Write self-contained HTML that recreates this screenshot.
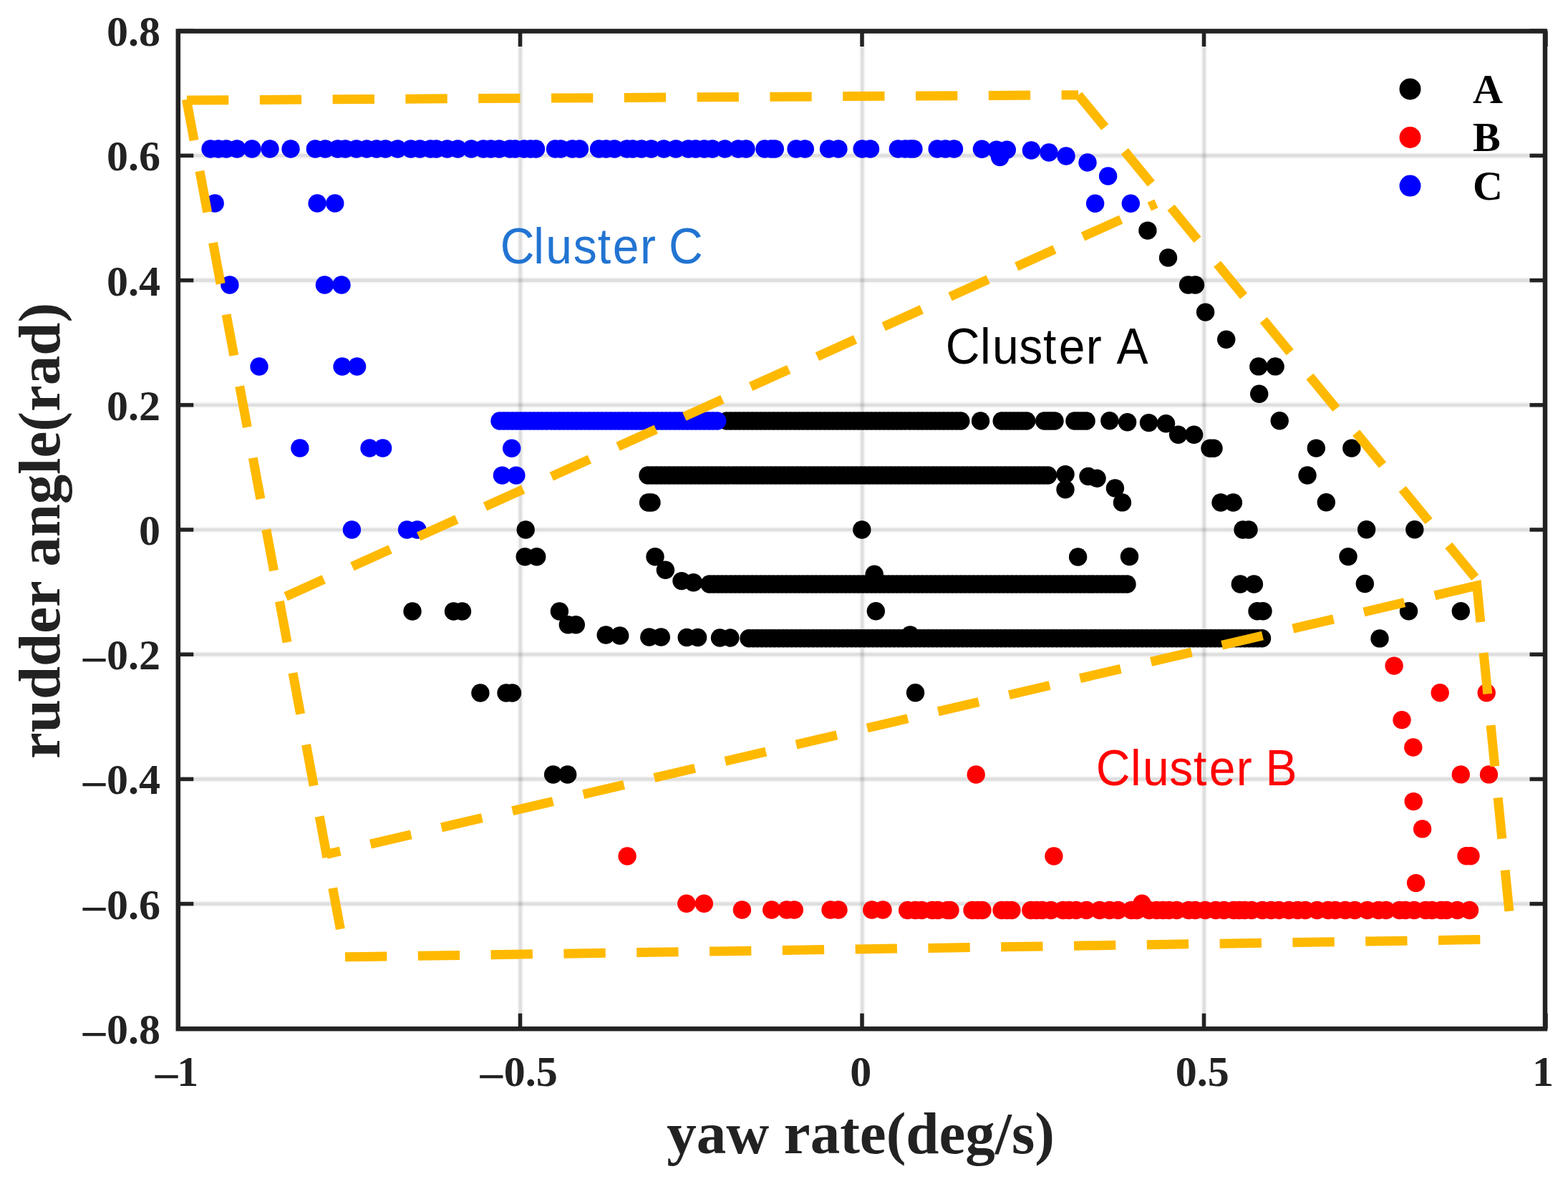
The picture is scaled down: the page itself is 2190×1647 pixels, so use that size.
<!DOCTYPE html>
<html><head><meta charset="utf-8"><title>rudder angle vs yaw rate</title>
<style>
html,body{margin:0;padding:0;background:#fff;}
svg{display:block;}
</style></head>
<body>
<svg width="2190" height="1647" viewBox="0 0 2190 1647">
<rect x="0" y="0" width="2190" height="1647" fill="#ffffff"/>
<g id="grid">
<line x1="726.8" y1="43.5" x2="726.8" y2="1437.2" stroke="#000" stroke-opacity="0.03" stroke-width="9.0"/>
<line x1="726.8" y1="43.5" x2="726.8" y2="1437.2" stroke="#000" stroke-opacity="0.094" stroke-width="4.6"/>
<line x1="1204.3" y1="43.5" x2="1204.3" y2="1437.2" stroke="#000" stroke-opacity="0.03" stroke-width="9.0"/>
<line x1="1204.3" y1="43.5" x2="1204.3" y2="1437.2" stroke="#000" stroke-opacity="0.094" stroke-width="4.6"/>
<line x1="1681.8" y1="43.5" x2="1681.8" y2="1437.2" stroke="#000" stroke-opacity="0.03" stroke-width="9.0"/>
<line x1="1681.8" y1="43.5" x2="1681.8" y2="1437.2" stroke="#000" stroke-opacity="0.094" stroke-width="4.6"/>
<line x1="248.8" y1="217.4" x2="2158.0" y2="217.4" stroke="#000" stroke-opacity="0.03" stroke-width="9.0"/>
<line x1="248.8" y1="217.4" x2="2158.0" y2="217.4" stroke="#000" stroke-opacity="0.094" stroke-width="4.6"/>
<line x1="248.8" y1="391.6" x2="2158.0" y2="391.6" stroke="#000" stroke-opacity="0.03" stroke-width="9.0"/>
<line x1="248.8" y1="391.6" x2="2158.0" y2="391.6" stroke="#000" stroke-opacity="0.094" stroke-width="4.6"/>
<line x1="248.8" y1="565.8" x2="2158.0" y2="565.8" stroke="#000" stroke-opacity="0.03" stroke-width="9.0"/>
<line x1="248.8" y1="565.8" x2="2158.0" y2="565.8" stroke="#000" stroke-opacity="0.094" stroke-width="4.6"/>
<line x1="248.8" y1="740.0" x2="2158.0" y2="740.0" stroke="#000" stroke-opacity="0.03" stroke-width="9.0"/>
<line x1="248.8" y1="740.0" x2="2158.0" y2="740.0" stroke="#000" stroke-opacity="0.094" stroke-width="4.6"/>
<line x1="248.8" y1="914.2" x2="2158.0" y2="914.2" stroke="#000" stroke-opacity="0.03" stroke-width="9.0"/>
<line x1="248.8" y1="914.2" x2="2158.0" y2="914.2" stroke="#000" stroke-opacity="0.094" stroke-width="4.6"/>
<line x1="248.8" y1="1088.4" x2="2158.0" y2="1088.4" stroke="#000" stroke-opacity="0.03" stroke-width="9.0"/>
<line x1="248.8" y1="1088.4" x2="2158.0" y2="1088.4" stroke="#000" stroke-opacity="0.094" stroke-width="4.6"/>
<line x1="248.8" y1="1262.6" x2="2158.0" y2="1262.6" stroke="#000" stroke-opacity="0.03" stroke-width="9.0"/>
<line x1="248.8" y1="1262.6" x2="2158.0" y2="1262.6" stroke="#000" stroke-opacity="0.094" stroke-width="4.6"/>
</g>
<g id="points">
<circle cx="1602.9" cy="322.1" r="12.7" fill="#000000"/>
<circle cx="1631.5" cy="360.0" r="12.7" fill="#000000"/>
<circle cx="1659.5" cy="398.0" r="12.7" fill="#000000"/>
<circle cx="1669.5" cy="398.0" r="12.7" fill="#000000"/>
<circle cx="1683.6" cy="436.1" r="12.7" fill="#000000"/>
<circle cx="1712.7" cy="474.2" r="12.7" fill="#000000"/>
<circle cx="1757.8" cy="511.9" r="12.7" fill="#000000"/>
<circle cx="1781.1" cy="511.9" r="12.7" fill="#000000"/>
<circle cx="1758.7" cy="550.3" r="12.7" fill="#000000"/>
<circle cx="1787.2" cy="587.8" r="12.7" fill="#000000"/>
<circle cx="1838.3" cy="626.1" r="12.7" fill="#000000"/>
<circle cx="1887.8" cy="626.1" r="12.7" fill="#000000"/>
<circle cx="1826.0" cy="664.0" r="12.7" fill="#000000"/>
<circle cx="1852.3" cy="701.8" r="12.7" fill="#000000"/>
<circle cx="1908.6" cy="739.7" r="12.7" fill="#000000"/>
<circle cx="1975.8" cy="739.7" r="12.7" fill="#000000"/>
<circle cx="1883.0" cy="777.6" r="12.7" fill="#000000"/>
<circle cx="1906.3" cy="815.5" r="12.7" fill="#000000"/>
<circle cx="1967.5" cy="853.8" r="12.7" fill="#000000"/>
<circle cx="2040.3" cy="853.8" r="12.7" fill="#000000"/>
<circle cx="1927.0" cy="891.9" r="12.7" fill="#000000"/>
<circle cx="1369.5" cy="588.0" r="12.7" fill="#000000"/>
<circle cx="1549.8" cy="587.8" r="12.7" fill="#000000"/>
<circle cx="1574.6" cy="589.7" r="12.7" fill="#000000"/>
<circle cx="1604.5" cy="590.6" r="12.7" fill="#000000"/>
<circle cx="1628.5" cy="591.8" r="12.7" fill="#000000"/>
<circle cx="1645.6" cy="607.3" r="12.7" fill="#000000"/>
<circle cx="1667.6" cy="607.3" r="12.7" fill="#000000"/>
<circle cx="1690.0" cy="626.2" r="12.7" fill="#000000"/>
<circle cx="1695.0" cy="626.2" r="12.7" fill="#000000"/>
<circle cx="1488.0" cy="662.6" r="12.7" fill="#000000"/>
<circle cx="1488.0" cy="683.7" r="12.7" fill="#000000"/>
<circle cx="1520.0" cy="665.5" r="12.7" fill="#000000"/>
<circle cx="1532.0" cy="668.2" r="12.7" fill="#000000"/>
<circle cx="1557.4" cy="681.9" r="12.7" fill="#000000"/>
<circle cx="1567.4" cy="701.9" r="12.7" fill="#000000"/>
<circle cx="905.5" cy="702.0" r="12.7" fill="#000000"/>
<circle cx="910.0" cy="702.0" r="12.7" fill="#000000"/>
<circle cx="1705.0" cy="702.0" r="12.7" fill="#000000"/>
<circle cx="1722.4" cy="702.0" r="12.7" fill="#000000"/>
<circle cx="734.2" cy="740.0" r="12.7" fill="#000000"/>
<circle cx="1203.8" cy="740.0" r="12.7" fill="#000000"/>
<circle cx="1736.0" cy="740.0" r="12.7" fill="#000000"/>
<circle cx="1744.0" cy="740.0" r="12.7" fill="#000000"/>
<circle cx="733.2" cy="777.7" r="12.7" fill="#000000"/>
<circle cx="749.7" cy="777.7" r="12.7" fill="#000000"/>
<circle cx="915.0" cy="777.7" r="12.7" fill="#000000"/>
<circle cx="1505.6" cy="778.0" r="12.7" fill="#000000"/>
<circle cx="1577.5" cy="777.5" r="12.7" fill="#000000"/>
<circle cx="929.4" cy="796.2" r="12.7" fill="#000000"/>
<circle cx="1221.2" cy="802.3" r="12.7" fill="#000000"/>
<circle cx="952.0" cy="811.6" r="12.7" fill="#000000"/>
<circle cx="968.5" cy="813.7" r="12.7" fill="#000000"/>
<circle cx="1732.3" cy="816.0" r="12.7" fill="#000000"/>
<circle cx="1751.4" cy="816.0" r="12.7" fill="#000000"/>
<circle cx="576.0" cy="854.0" r="12.7" fill="#000000"/>
<circle cx="633.5" cy="854.0" r="12.7" fill="#000000"/>
<circle cx="645.5" cy="854.0" r="12.7" fill="#000000"/>
<circle cx="781.4" cy="854.0" r="12.7" fill="#000000"/>
<circle cx="1223.3" cy="853.7" r="12.7" fill="#000000"/>
<circle cx="1756.0" cy="853.7" r="12.7" fill="#000000"/>
<circle cx="1764.0" cy="853.7" r="12.7" fill="#000000"/>
<circle cx="793.3" cy="872.7" r="12.7" fill="#000000"/>
<circle cx="804.3" cy="872.7" r="12.7" fill="#000000"/>
<circle cx="846.2" cy="887.0" r="12.7" fill="#000000"/>
<circle cx="865.7" cy="888.0" r="12.7" fill="#000000"/>
<circle cx="906.8" cy="890.0" r="12.7" fill="#000000"/>
<circle cx="923.3" cy="890.0" r="12.7" fill="#000000"/>
<circle cx="959.2" cy="890.5" r="12.7" fill="#000000"/>
<circle cx="974.6" cy="890.5" r="12.7" fill="#000000"/>
<circle cx="1005.5" cy="891.0" r="12.7" fill="#000000"/>
<circle cx="1019.8" cy="891.0" r="12.7" fill="#000000"/>
<circle cx="1271.2" cy="887.0" r="12.7" fill="#000000"/>
<circle cx="670.9" cy="968.0" r="12.7" fill="#000000"/>
<circle cx="707.0" cy="968.0" r="12.7" fill="#000000"/>
<circle cx="715.5" cy="968.0" r="12.7" fill="#000000"/>
<circle cx="1278.5" cy="967.8" r="12.7" fill="#000000"/>
<circle cx="772.6" cy="1082.0" r="12.7" fill="#000000"/>
<circle cx="792.7" cy="1082.0" r="12.7" fill="#000000"/>
<circle cx="1015.0" cy="588.0" r="12.7" fill="#000000"/>
<circle cx="1020.9" cy="588.0" r="12.7" fill="#000000"/>
<circle cx="1026.9" cy="588.0" r="12.7" fill="#000000"/>
<circle cx="1032.8" cy="588.0" r="12.7" fill="#000000"/>
<circle cx="1038.8" cy="588.0" r="12.7" fill="#000000"/>
<circle cx="1044.7" cy="588.0" r="12.7" fill="#000000"/>
<circle cx="1050.7" cy="588.0" r="12.7" fill="#000000"/>
<circle cx="1056.6" cy="588.0" r="12.7" fill="#000000"/>
<circle cx="1062.5" cy="588.0" r="12.7" fill="#000000"/>
<circle cx="1068.5" cy="588.0" r="12.7" fill="#000000"/>
<circle cx="1074.4" cy="588.0" r="12.7" fill="#000000"/>
<circle cx="1080.4" cy="588.0" r="12.7" fill="#000000"/>
<circle cx="1086.3" cy="588.0" r="12.7" fill="#000000"/>
<circle cx="1092.2" cy="588.0" r="12.7" fill="#000000"/>
<circle cx="1098.2" cy="588.0" r="12.7" fill="#000000"/>
<circle cx="1104.1" cy="588.0" r="12.7" fill="#000000"/>
<circle cx="1110.1" cy="588.0" r="12.7" fill="#000000"/>
<circle cx="1116.0" cy="588.0" r="12.7" fill="#000000"/>
<circle cx="1122.0" cy="588.0" r="12.7" fill="#000000"/>
<circle cx="1127.9" cy="588.0" r="12.7" fill="#000000"/>
<circle cx="1133.8" cy="588.0" r="12.7" fill="#000000"/>
<circle cx="1139.8" cy="588.0" r="12.7" fill="#000000"/>
<circle cx="1145.7" cy="588.0" r="12.7" fill="#000000"/>
<circle cx="1151.7" cy="588.0" r="12.7" fill="#000000"/>
<circle cx="1157.6" cy="588.0" r="12.7" fill="#000000"/>
<circle cx="1163.5" cy="588.0" r="12.7" fill="#000000"/>
<circle cx="1169.5" cy="588.0" r="12.7" fill="#000000"/>
<circle cx="1175.4" cy="588.0" r="12.7" fill="#000000"/>
<circle cx="1181.4" cy="588.0" r="12.7" fill="#000000"/>
<circle cx="1187.3" cy="588.0" r="12.7" fill="#000000"/>
<circle cx="1193.3" cy="588.0" r="12.7" fill="#000000"/>
<circle cx="1199.2" cy="588.0" r="12.7" fill="#000000"/>
<circle cx="1205.1" cy="588.0" r="12.7" fill="#000000"/>
<circle cx="1211.1" cy="588.0" r="12.7" fill="#000000"/>
<circle cx="1217.0" cy="588.0" r="12.7" fill="#000000"/>
<circle cx="1223.0" cy="588.0" r="12.7" fill="#000000"/>
<circle cx="1228.9" cy="588.0" r="12.7" fill="#000000"/>
<circle cx="1234.8" cy="588.0" r="12.7" fill="#000000"/>
<circle cx="1240.8" cy="588.0" r="12.7" fill="#000000"/>
<circle cx="1246.7" cy="588.0" r="12.7" fill="#000000"/>
<circle cx="1252.7" cy="588.0" r="12.7" fill="#000000"/>
<circle cx="1258.6" cy="588.0" r="12.7" fill="#000000"/>
<circle cx="1264.6" cy="588.0" r="12.7" fill="#000000"/>
<circle cx="1270.5" cy="588.0" r="12.7" fill="#000000"/>
<circle cx="1276.4" cy="588.0" r="12.7" fill="#000000"/>
<circle cx="1282.4" cy="588.0" r="12.7" fill="#000000"/>
<circle cx="1288.3" cy="588.0" r="12.7" fill="#000000"/>
<circle cx="1294.3" cy="588.0" r="12.7" fill="#000000"/>
<circle cx="1300.2" cy="588.0" r="12.7" fill="#000000"/>
<circle cx="1306.1" cy="588.0" r="12.7" fill="#000000"/>
<circle cx="1312.1" cy="588.0" r="12.7" fill="#000000"/>
<circle cx="1318.0" cy="588.0" r="12.7" fill="#000000"/>
<circle cx="1324.0" cy="588.0" r="12.7" fill="#000000"/>
<circle cx="1329.9" cy="588.0" r="12.7" fill="#000000"/>
<circle cx="1335.9" cy="588.0" r="12.7" fill="#000000"/>
<circle cx="1341.8" cy="588.0" r="12.7" fill="#000000"/>
<circle cx="1399.2" cy="588.0" r="12.7" fill="#000000"/>
<circle cx="1405.0" cy="588.0" r="12.7" fill="#000000"/>
<circle cx="1410.7" cy="588.0" r="12.7" fill="#000000"/>
<circle cx="1416.5" cy="588.0" r="12.7" fill="#000000"/>
<circle cx="1422.2" cy="588.0" r="12.7" fill="#000000"/>
<circle cx="1428.0" cy="588.0" r="12.7" fill="#000000"/>
<circle cx="1433.7" cy="588.0" r="12.7" fill="#000000"/>
<circle cx="1458.7" cy="588.0" r="12.7" fill="#000000"/>
<circle cx="1463.5" cy="588.0" r="12.7" fill="#000000"/>
<circle cx="1468.2" cy="588.0" r="12.7" fill="#000000"/>
<circle cx="1473.0" cy="588.0" r="12.7" fill="#000000"/>
<circle cx="1500.9" cy="588.0" r="12.7" fill="#000000"/>
<circle cx="1506.3" cy="588.0" r="12.7" fill="#000000"/>
<circle cx="1511.7" cy="588.0" r="12.7" fill="#000000"/>
<circle cx="1517.1" cy="588.0" r="12.7" fill="#000000"/>
<circle cx="905.0" cy="664.0" r="12.7" fill="#000000"/>
<circle cx="910.9" cy="664.0" r="12.7" fill="#000000"/>
<circle cx="916.9" cy="664.0" r="12.7" fill="#000000"/>
<circle cx="922.8" cy="664.0" r="12.7" fill="#000000"/>
<circle cx="928.8" cy="664.0" r="12.7" fill="#000000"/>
<circle cx="934.7" cy="664.0" r="12.7" fill="#000000"/>
<circle cx="940.6" cy="664.0" r="12.7" fill="#000000"/>
<circle cx="946.6" cy="664.0" r="12.7" fill="#000000"/>
<circle cx="952.5" cy="664.0" r="12.7" fill="#000000"/>
<circle cx="958.5" cy="664.0" r="12.7" fill="#000000"/>
<circle cx="964.4" cy="664.0" r="12.7" fill="#000000"/>
<circle cx="970.4" cy="664.0" r="12.7" fill="#000000"/>
<circle cx="976.3" cy="664.0" r="12.7" fill="#000000"/>
<circle cx="982.2" cy="664.0" r="12.7" fill="#000000"/>
<circle cx="988.2" cy="664.0" r="12.7" fill="#000000"/>
<circle cx="994.1" cy="664.0" r="12.7" fill="#000000"/>
<circle cx="1000.1" cy="664.0" r="12.7" fill="#000000"/>
<circle cx="1006.0" cy="664.0" r="12.7" fill="#000000"/>
<circle cx="1011.9" cy="664.0" r="12.7" fill="#000000"/>
<circle cx="1017.9" cy="664.0" r="12.7" fill="#000000"/>
<circle cx="1023.8" cy="664.0" r="12.7" fill="#000000"/>
<circle cx="1029.8" cy="664.0" r="12.7" fill="#000000"/>
<circle cx="1035.7" cy="664.0" r="12.7" fill="#000000"/>
<circle cx="1041.7" cy="664.0" r="12.7" fill="#000000"/>
<circle cx="1047.6" cy="664.0" r="12.7" fill="#000000"/>
<circle cx="1053.5" cy="664.0" r="12.7" fill="#000000"/>
<circle cx="1059.5" cy="664.0" r="12.7" fill="#000000"/>
<circle cx="1065.4" cy="664.0" r="12.7" fill="#000000"/>
<circle cx="1071.4" cy="664.0" r="12.7" fill="#000000"/>
<circle cx="1077.3" cy="664.0" r="12.7" fill="#000000"/>
<circle cx="1083.2" cy="664.0" r="12.7" fill="#000000"/>
<circle cx="1089.2" cy="664.0" r="12.7" fill="#000000"/>
<circle cx="1095.1" cy="664.0" r="12.7" fill="#000000"/>
<circle cx="1101.1" cy="664.0" r="12.7" fill="#000000"/>
<circle cx="1107.0" cy="664.0" r="12.7" fill="#000000"/>
<circle cx="1113.0" cy="664.0" r="12.7" fill="#000000"/>
<circle cx="1118.9" cy="664.0" r="12.7" fill="#000000"/>
<circle cx="1124.8" cy="664.0" r="12.7" fill="#000000"/>
<circle cx="1130.8" cy="664.0" r="12.7" fill="#000000"/>
<circle cx="1136.7" cy="664.0" r="12.7" fill="#000000"/>
<circle cx="1142.7" cy="664.0" r="12.7" fill="#000000"/>
<circle cx="1148.6" cy="664.0" r="12.7" fill="#000000"/>
<circle cx="1154.5" cy="664.0" r="12.7" fill="#000000"/>
<circle cx="1160.5" cy="664.0" r="12.7" fill="#000000"/>
<circle cx="1166.4" cy="664.0" r="12.7" fill="#000000"/>
<circle cx="1172.4" cy="664.0" r="12.7" fill="#000000"/>
<circle cx="1178.3" cy="664.0" r="12.7" fill="#000000"/>
<circle cx="1184.2" cy="664.0" r="12.7" fill="#000000"/>
<circle cx="1190.2" cy="664.0" r="12.7" fill="#000000"/>
<circle cx="1196.1" cy="664.0" r="12.7" fill="#000000"/>
<circle cx="1202.1" cy="664.0" r="12.7" fill="#000000"/>
<circle cx="1208.0" cy="664.0" r="12.7" fill="#000000"/>
<circle cx="1214.0" cy="664.0" r="12.7" fill="#000000"/>
<circle cx="1219.9" cy="664.0" r="12.7" fill="#000000"/>
<circle cx="1225.8" cy="664.0" r="12.7" fill="#000000"/>
<circle cx="1231.8" cy="664.0" r="12.7" fill="#000000"/>
<circle cx="1237.7" cy="664.0" r="12.7" fill="#000000"/>
<circle cx="1243.7" cy="664.0" r="12.7" fill="#000000"/>
<circle cx="1249.6" cy="664.0" r="12.7" fill="#000000"/>
<circle cx="1255.5" cy="664.0" r="12.7" fill="#000000"/>
<circle cx="1261.5" cy="664.0" r="12.7" fill="#000000"/>
<circle cx="1267.4" cy="664.0" r="12.7" fill="#000000"/>
<circle cx="1273.4" cy="664.0" r="12.7" fill="#000000"/>
<circle cx="1279.3" cy="664.0" r="12.7" fill="#000000"/>
<circle cx="1285.3" cy="664.0" r="12.7" fill="#000000"/>
<circle cx="1291.2" cy="664.0" r="12.7" fill="#000000"/>
<circle cx="1297.1" cy="664.0" r="12.7" fill="#000000"/>
<circle cx="1303.1" cy="664.0" r="12.7" fill="#000000"/>
<circle cx="1309.0" cy="664.0" r="12.7" fill="#000000"/>
<circle cx="1315.0" cy="664.0" r="12.7" fill="#000000"/>
<circle cx="1320.9" cy="664.0" r="12.7" fill="#000000"/>
<circle cx="1326.8" cy="664.0" r="12.7" fill="#000000"/>
<circle cx="1332.8" cy="664.0" r="12.7" fill="#000000"/>
<circle cx="1338.7" cy="664.0" r="12.7" fill="#000000"/>
<circle cx="1344.7" cy="664.0" r="12.7" fill="#000000"/>
<circle cx="1350.6" cy="664.0" r="12.7" fill="#000000"/>
<circle cx="1356.6" cy="664.0" r="12.7" fill="#000000"/>
<circle cx="1362.5" cy="664.0" r="12.7" fill="#000000"/>
<circle cx="1368.4" cy="664.0" r="12.7" fill="#000000"/>
<circle cx="1374.4" cy="664.0" r="12.7" fill="#000000"/>
<circle cx="1380.3" cy="664.0" r="12.7" fill="#000000"/>
<circle cx="1386.3" cy="664.0" r="12.7" fill="#000000"/>
<circle cx="1392.2" cy="664.0" r="12.7" fill="#000000"/>
<circle cx="1398.1" cy="664.0" r="12.7" fill="#000000"/>
<circle cx="1404.1" cy="664.0" r="12.7" fill="#000000"/>
<circle cx="1410.0" cy="664.0" r="12.7" fill="#000000"/>
<circle cx="1416.0" cy="664.0" r="12.7" fill="#000000"/>
<circle cx="1421.9" cy="664.0" r="12.7" fill="#000000"/>
<circle cx="1427.9" cy="664.0" r="12.7" fill="#000000"/>
<circle cx="1433.8" cy="664.0" r="12.7" fill="#000000"/>
<circle cx="1439.7" cy="664.0" r="12.7" fill="#000000"/>
<circle cx="1445.7" cy="664.0" r="12.7" fill="#000000"/>
<circle cx="1451.6" cy="664.0" r="12.7" fill="#000000"/>
<circle cx="1457.6" cy="664.0" r="12.7" fill="#000000"/>
<circle cx="1463.5" cy="664.0" r="12.7" fill="#000000"/>
<circle cx="991.0" cy="816.0" r="12.7" fill="#000000"/>
<circle cx="996.9" cy="816.0" r="12.7" fill="#000000"/>
<circle cx="1002.9" cy="816.0" r="12.7" fill="#000000"/>
<circle cx="1008.8" cy="816.0" r="12.7" fill="#000000"/>
<circle cx="1014.8" cy="816.0" r="12.7" fill="#000000"/>
<circle cx="1020.7" cy="816.0" r="12.7" fill="#000000"/>
<circle cx="1026.7" cy="816.0" r="12.7" fill="#000000"/>
<circle cx="1032.6" cy="816.0" r="12.7" fill="#000000"/>
<circle cx="1038.6" cy="816.0" r="12.7" fill="#000000"/>
<circle cx="1044.5" cy="816.0" r="12.7" fill="#000000"/>
<circle cx="1050.5" cy="816.0" r="12.7" fill="#000000"/>
<circle cx="1056.4" cy="816.0" r="12.7" fill="#000000"/>
<circle cx="1062.4" cy="816.0" r="12.7" fill="#000000"/>
<circle cx="1068.3" cy="816.0" r="12.7" fill="#000000"/>
<circle cx="1074.3" cy="816.0" r="12.7" fill="#000000"/>
<circle cx="1080.2" cy="816.0" r="12.7" fill="#000000"/>
<circle cx="1086.2" cy="816.0" r="12.7" fill="#000000"/>
<circle cx="1092.1" cy="816.0" r="12.7" fill="#000000"/>
<circle cx="1098.1" cy="816.0" r="12.7" fill="#000000"/>
<circle cx="1104.0" cy="816.0" r="12.7" fill="#000000"/>
<circle cx="1110.0" cy="816.0" r="12.7" fill="#000000"/>
<circle cx="1115.9" cy="816.0" r="12.7" fill="#000000"/>
<circle cx="1121.9" cy="816.0" r="12.7" fill="#000000"/>
<circle cx="1127.8" cy="816.0" r="12.7" fill="#000000"/>
<circle cx="1133.8" cy="816.0" r="12.7" fill="#000000"/>
<circle cx="1139.7" cy="816.0" r="12.7" fill="#000000"/>
<circle cx="1145.7" cy="816.0" r="12.7" fill="#000000"/>
<circle cx="1151.6" cy="816.0" r="12.7" fill="#000000"/>
<circle cx="1157.6" cy="816.0" r="12.7" fill="#000000"/>
<circle cx="1163.5" cy="816.0" r="12.7" fill="#000000"/>
<circle cx="1169.5" cy="816.0" r="12.7" fill="#000000"/>
<circle cx="1175.4" cy="816.0" r="12.7" fill="#000000"/>
<circle cx="1181.4" cy="816.0" r="12.7" fill="#000000"/>
<circle cx="1187.3" cy="816.0" r="12.7" fill="#000000"/>
<circle cx="1193.3" cy="816.0" r="12.7" fill="#000000"/>
<circle cx="1199.2" cy="816.0" r="12.7" fill="#000000"/>
<circle cx="1205.2" cy="816.0" r="12.7" fill="#000000"/>
<circle cx="1211.1" cy="816.0" r="12.7" fill="#000000"/>
<circle cx="1217.1" cy="816.0" r="12.7" fill="#000000"/>
<circle cx="1223.0" cy="816.0" r="12.7" fill="#000000"/>
<circle cx="1229.0" cy="816.0" r="12.7" fill="#000000"/>
<circle cx="1234.9" cy="816.0" r="12.7" fill="#000000"/>
<circle cx="1240.9" cy="816.0" r="12.7" fill="#000000"/>
<circle cx="1246.8" cy="816.0" r="12.7" fill="#000000"/>
<circle cx="1252.8" cy="816.0" r="12.7" fill="#000000"/>
<circle cx="1258.7" cy="816.0" r="12.7" fill="#000000"/>
<circle cx="1264.7" cy="816.0" r="12.7" fill="#000000"/>
<circle cx="1270.6" cy="816.0" r="12.7" fill="#000000"/>
<circle cx="1276.6" cy="816.0" r="12.7" fill="#000000"/>
<circle cx="1282.5" cy="816.0" r="12.7" fill="#000000"/>
<circle cx="1288.4" cy="816.0" r="12.7" fill="#000000"/>
<circle cx="1294.4" cy="816.0" r="12.7" fill="#000000"/>
<circle cx="1300.3" cy="816.0" r="12.7" fill="#000000"/>
<circle cx="1306.3" cy="816.0" r="12.7" fill="#000000"/>
<circle cx="1312.2" cy="816.0" r="12.7" fill="#000000"/>
<circle cx="1318.2" cy="816.0" r="12.7" fill="#000000"/>
<circle cx="1324.1" cy="816.0" r="12.7" fill="#000000"/>
<circle cx="1330.1" cy="816.0" r="12.7" fill="#000000"/>
<circle cx="1336.0" cy="816.0" r="12.7" fill="#000000"/>
<circle cx="1342.0" cy="816.0" r="12.7" fill="#000000"/>
<circle cx="1347.9" cy="816.0" r="12.7" fill="#000000"/>
<circle cx="1353.9" cy="816.0" r="12.7" fill="#000000"/>
<circle cx="1359.8" cy="816.0" r="12.7" fill="#000000"/>
<circle cx="1365.8" cy="816.0" r="12.7" fill="#000000"/>
<circle cx="1371.7" cy="816.0" r="12.7" fill="#000000"/>
<circle cx="1377.7" cy="816.0" r="12.7" fill="#000000"/>
<circle cx="1383.6" cy="816.0" r="12.7" fill="#000000"/>
<circle cx="1389.6" cy="816.0" r="12.7" fill="#000000"/>
<circle cx="1395.5" cy="816.0" r="12.7" fill="#000000"/>
<circle cx="1401.5" cy="816.0" r="12.7" fill="#000000"/>
<circle cx="1407.4" cy="816.0" r="12.7" fill="#000000"/>
<circle cx="1413.4" cy="816.0" r="12.7" fill="#000000"/>
<circle cx="1419.3" cy="816.0" r="12.7" fill="#000000"/>
<circle cx="1425.3" cy="816.0" r="12.7" fill="#000000"/>
<circle cx="1431.2" cy="816.0" r="12.7" fill="#000000"/>
<circle cx="1437.2" cy="816.0" r="12.7" fill="#000000"/>
<circle cx="1443.1" cy="816.0" r="12.7" fill="#000000"/>
<circle cx="1449.1" cy="816.0" r="12.7" fill="#000000"/>
<circle cx="1455.0" cy="816.0" r="12.7" fill="#000000"/>
<circle cx="1461.0" cy="816.0" r="12.7" fill="#000000"/>
<circle cx="1466.9" cy="816.0" r="12.7" fill="#000000"/>
<circle cx="1472.9" cy="816.0" r="12.7" fill="#000000"/>
<circle cx="1478.8" cy="816.0" r="12.7" fill="#000000"/>
<circle cx="1484.8" cy="816.0" r="12.7" fill="#000000"/>
<circle cx="1490.7" cy="816.0" r="12.7" fill="#000000"/>
<circle cx="1496.7" cy="816.0" r="12.7" fill="#000000"/>
<circle cx="1502.6" cy="816.0" r="12.7" fill="#000000"/>
<circle cx="1508.6" cy="816.0" r="12.7" fill="#000000"/>
<circle cx="1514.5" cy="816.0" r="12.7" fill="#000000"/>
<circle cx="1520.5" cy="816.0" r="12.7" fill="#000000"/>
<circle cx="1526.4" cy="816.0" r="12.7" fill="#000000"/>
<circle cx="1532.4" cy="816.0" r="12.7" fill="#000000"/>
<circle cx="1538.3" cy="816.0" r="12.7" fill="#000000"/>
<circle cx="1544.3" cy="816.0" r="12.7" fill="#000000"/>
<circle cx="1550.2" cy="816.0" r="12.7" fill="#000000"/>
<circle cx="1556.2" cy="816.0" r="12.7" fill="#000000"/>
<circle cx="1562.1" cy="816.0" r="12.7" fill="#000000"/>
<circle cx="1568.1" cy="816.0" r="12.7" fill="#000000"/>
<circle cx="1574.0" cy="816.0" r="12.7" fill="#000000"/>
<circle cx="1046.0" cy="891.8" r="12.7" fill="#000000"/>
<circle cx="1052.0" cy="891.8" r="12.7" fill="#000000"/>
<circle cx="1057.9" cy="891.8" r="12.7" fill="#000000"/>
<circle cx="1063.9" cy="891.8" r="12.7" fill="#000000"/>
<circle cx="1069.9" cy="891.8" r="12.7" fill="#000000"/>
<circle cx="1075.9" cy="891.8" r="12.7" fill="#000000"/>
<circle cx="1081.8" cy="891.8" r="12.7" fill="#000000"/>
<circle cx="1087.8" cy="891.8" r="12.7" fill="#000000"/>
<circle cx="1093.8" cy="891.8" r="12.7" fill="#000000"/>
<circle cx="1099.7" cy="891.8" r="12.7" fill="#000000"/>
<circle cx="1105.7" cy="891.8" r="12.7" fill="#000000"/>
<circle cx="1111.7" cy="891.8" r="12.7" fill="#000000"/>
<circle cx="1117.7" cy="891.8" r="12.7" fill="#000000"/>
<circle cx="1123.6" cy="891.8" r="12.7" fill="#000000"/>
<circle cx="1129.6" cy="891.8" r="12.7" fill="#000000"/>
<circle cx="1135.6" cy="891.8" r="12.7" fill="#000000"/>
<circle cx="1141.5" cy="891.8" r="12.7" fill="#000000"/>
<circle cx="1147.5" cy="891.8" r="12.7" fill="#000000"/>
<circle cx="1153.5" cy="891.8" r="12.7" fill="#000000"/>
<circle cx="1159.4" cy="891.8" r="12.7" fill="#000000"/>
<circle cx="1165.4" cy="891.8" r="12.7" fill="#000000"/>
<circle cx="1171.4" cy="891.8" r="12.7" fill="#000000"/>
<circle cx="1177.4" cy="891.8" r="12.7" fill="#000000"/>
<circle cx="1183.3" cy="891.8" r="12.7" fill="#000000"/>
<circle cx="1189.3" cy="891.8" r="12.7" fill="#000000"/>
<circle cx="1195.3" cy="891.8" r="12.7" fill="#000000"/>
<circle cx="1201.2" cy="891.8" r="12.7" fill="#000000"/>
<circle cx="1207.2" cy="891.8" r="12.7" fill="#000000"/>
<circle cx="1213.2" cy="891.8" r="12.7" fill="#000000"/>
<circle cx="1219.2" cy="891.8" r="12.7" fill="#000000"/>
<circle cx="1225.1" cy="891.8" r="12.7" fill="#000000"/>
<circle cx="1231.1" cy="891.8" r="12.7" fill="#000000"/>
<circle cx="1237.1" cy="891.8" r="12.7" fill="#000000"/>
<circle cx="1243.0" cy="891.8" r="12.7" fill="#000000"/>
<circle cx="1249.0" cy="891.8" r="12.7" fill="#000000"/>
<circle cx="1255.0" cy="891.8" r="12.7" fill="#000000"/>
<circle cx="1261.0" cy="891.8" r="12.7" fill="#000000"/>
<circle cx="1266.9" cy="891.8" r="12.7" fill="#000000"/>
<circle cx="1272.9" cy="891.8" r="12.7" fill="#000000"/>
<circle cx="1278.9" cy="891.8" r="12.7" fill="#000000"/>
<circle cx="1284.8" cy="891.8" r="12.7" fill="#000000"/>
<circle cx="1290.8" cy="891.8" r="12.7" fill="#000000"/>
<circle cx="1296.8" cy="891.8" r="12.7" fill="#000000"/>
<circle cx="1302.7" cy="891.8" r="12.7" fill="#000000"/>
<circle cx="1308.7" cy="891.8" r="12.7" fill="#000000"/>
<circle cx="1314.7" cy="891.8" r="12.7" fill="#000000"/>
<circle cx="1320.7" cy="891.8" r="12.7" fill="#000000"/>
<circle cx="1326.6" cy="891.8" r="12.7" fill="#000000"/>
<circle cx="1332.6" cy="891.8" r="12.7" fill="#000000"/>
<circle cx="1338.6" cy="891.8" r="12.7" fill="#000000"/>
<circle cx="1344.5" cy="891.8" r="12.7" fill="#000000"/>
<circle cx="1350.5" cy="891.8" r="12.7" fill="#000000"/>
<circle cx="1356.5" cy="891.8" r="12.7" fill="#000000"/>
<circle cx="1362.5" cy="891.8" r="12.7" fill="#000000"/>
<circle cx="1368.4" cy="891.8" r="12.7" fill="#000000"/>
<circle cx="1374.4" cy="891.8" r="12.7" fill="#000000"/>
<circle cx="1380.4" cy="891.8" r="12.7" fill="#000000"/>
<circle cx="1386.3" cy="891.8" r="12.7" fill="#000000"/>
<circle cx="1392.3" cy="891.8" r="12.7" fill="#000000"/>
<circle cx="1398.3" cy="891.8" r="12.7" fill="#000000"/>
<circle cx="1404.2" cy="891.8" r="12.7" fill="#000000"/>
<circle cx="1410.2" cy="891.8" r="12.7" fill="#000000"/>
<circle cx="1416.2" cy="891.8" r="12.7" fill="#000000"/>
<circle cx="1422.2" cy="891.8" r="12.7" fill="#000000"/>
<circle cx="1428.1" cy="891.8" r="12.7" fill="#000000"/>
<circle cx="1434.1" cy="891.8" r="12.7" fill="#000000"/>
<circle cx="1440.1" cy="891.8" r="12.7" fill="#000000"/>
<circle cx="1446.0" cy="891.8" r="12.7" fill="#000000"/>
<circle cx="1452.0" cy="891.8" r="12.7" fill="#000000"/>
<circle cx="1458.0" cy="891.8" r="12.7" fill="#000000"/>
<circle cx="1464.0" cy="891.8" r="12.7" fill="#000000"/>
<circle cx="1469.9" cy="891.8" r="12.7" fill="#000000"/>
<circle cx="1475.9" cy="891.8" r="12.7" fill="#000000"/>
<circle cx="1481.9" cy="891.8" r="12.7" fill="#000000"/>
<circle cx="1487.8" cy="891.8" r="12.7" fill="#000000"/>
<circle cx="1493.8" cy="891.8" r="12.7" fill="#000000"/>
<circle cx="1499.8" cy="891.8" r="12.7" fill="#000000"/>
<circle cx="1505.8" cy="891.8" r="12.7" fill="#000000"/>
<circle cx="1511.7" cy="891.8" r="12.7" fill="#000000"/>
<circle cx="1517.7" cy="891.8" r="12.7" fill="#000000"/>
<circle cx="1523.7" cy="891.8" r="12.7" fill="#000000"/>
<circle cx="1529.6" cy="891.8" r="12.7" fill="#000000"/>
<circle cx="1535.6" cy="891.8" r="12.7" fill="#000000"/>
<circle cx="1541.6" cy="891.8" r="12.7" fill="#000000"/>
<circle cx="1547.5" cy="891.8" r="12.7" fill="#000000"/>
<circle cx="1553.5" cy="891.8" r="12.7" fill="#000000"/>
<circle cx="1559.5" cy="891.8" r="12.7" fill="#000000"/>
<circle cx="1565.5" cy="891.8" r="12.7" fill="#000000"/>
<circle cx="1571.4" cy="891.8" r="12.7" fill="#000000"/>
<circle cx="1577.4" cy="891.8" r="12.7" fill="#000000"/>
<circle cx="1583.4" cy="891.8" r="12.7" fill="#000000"/>
<circle cx="1589.3" cy="891.8" r="12.7" fill="#000000"/>
<circle cx="1595.3" cy="891.8" r="12.7" fill="#000000"/>
<circle cx="1601.3" cy="891.8" r="12.7" fill="#000000"/>
<circle cx="1607.3" cy="891.8" r="12.7" fill="#000000"/>
<circle cx="1613.2" cy="891.8" r="12.7" fill="#000000"/>
<circle cx="1619.2" cy="891.8" r="12.7" fill="#000000"/>
<circle cx="1625.2" cy="891.8" r="12.7" fill="#000000"/>
<circle cx="1631.1" cy="891.8" r="12.7" fill="#000000"/>
<circle cx="1637.1" cy="891.8" r="12.7" fill="#000000"/>
<circle cx="1643.1" cy="891.8" r="12.7" fill="#000000"/>
<circle cx="1649.1" cy="891.8" r="12.7" fill="#000000"/>
<circle cx="1655.0" cy="891.8" r="12.7" fill="#000000"/>
<circle cx="1661.0" cy="891.8" r="12.7" fill="#000000"/>
<circle cx="1667.0" cy="891.8" r="12.7" fill="#000000"/>
<circle cx="1672.9" cy="891.8" r="12.7" fill="#000000"/>
<circle cx="1678.9" cy="891.8" r="12.7" fill="#000000"/>
<circle cx="1684.9" cy="891.8" r="12.7" fill="#000000"/>
<circle cx="1690.8" cy="891.8" r="12.7" fill="#000000"/>
<circle cx="1696.8" cy="891.8" r="12.7" fill="#000000"/>
<circle cx="1702.8" cy="891.8" r="12.7" fill="#000000"/>
<circle cx="1708.8" cy="891.8" r="12.7" fill="#000000"/>
<circle cx="1714.7" cy="891.8" r="12.7" fill="#000000"/>
<circle cx="1720.7" cy="891.8" r="12.7" fill="#000000"/>
<circle cx="1726.7" cy="891.8" r="12.7" fill="#000000"/>
<circle cx="1732.6" cy="891.8" r="12.7" fill="#000000"/>
<circle cx="1738.6" cy="891.8" r="12.7" fill="#000000"/>
<circle cx="1744.6" cy="891.8" r="12.7" fill="#000000"/>
<circle cx="1750.6" cy="891.8" r="12.7" fill="#000000"/>
<circle cx="1756.5" cy="891.8" r="12.7" fill="#000000"/>
<circle cx="1762.5" cy="891.8" r="12.7" fill="#000000"/>
<circle cx="876.1" cy="1196.0" r="12.7" fill="#ff0000"/>
<circle cx="1471.9" cy="1196.0" r="12.7" fill="#ff0000"/>
<circle cx="1363.2" cy="1082.0" r="12.7" fill="#ff0000"/>
<circle cx="1947.1" cy="930.1" r="12.7" fill="#ff0000"/>
<circle cx="2011.2" cy="967.8" r="12.7" fill="#ff0000"/>
<circle cx="2076.2" cy="967.8" r="12.7" fill="#ff0000"/>
<circle cx="1958.0" cy="1005.7" r="12.7" fill="#ff0000"/>
<circle cx="1973.8" cy="1044.0" r="12.7" fill="#ff0000"/>
<circle cx="2040.3" cy="1081.9" r="12.7" fill="#ff0000"/>
<circle cx="2079.5" cy="1081.9" r="12.7" fill="#ff0000"/>
<circle cx="1974.2" cy="1119.6" r="12.7" fill="#ff0000"/>
<circle cx="1986.6" cy="1157.9" r="12.7" fill="#ff0000"/>
<circle cx="2048.0" cy="1195.8" r="12.7" fill="#ff0000"/>
<circle cx="2054.0" cy="1195.8" r="12.7" fill="#ff0000"/>
<circle cx="1977.6" cy="1233.6" r="12.7" fill="#ff0000"/>
<circle cx="958.8" cy="1262.2" r="12.7" fill="#ff0000"/>
<circle cx="983.3" cy="1262.2" r="12.7" fill="#ff0000"/>
<circle cx="1036.4" cy="1271.0" r="12.7" fill="#ff0000"/>
<circle cx="1077.7" cy="1271.0" r="12.7" fill="#ff0000"/>
<circle cx="1098.8" cy="1271.0" r="12.7" fill="#ff0000"/>
<circle cx="1109.3" cy="1271.0" r="12.7" fill="#ff0000"/>
<circle cx="1160.0" cy="1271.0" r="12.7" fill="#ff0000"/>
<circle cx="1171.0" cy="1271.0" r="12.7" fill="#ff0000"/>
<circle cx="1217.7" cy="1271.0" r="12.7" fill="#ff0000"/>
<circle cx="1233.0" cy="1271.0" r="12.7" fill="#ff0000"/>
<circle cx="1595.0" cy="1262.2" r="12.7" fill="#ff0000"/>
<circle cx="1267.6" cy="1271.5" r="12.7" fill="#ff0000"/>
<circle cx="1278.5" cy="1271.5" r="12.7" fill="#ff0000"/>
<circle cx="1287.3" cy="1271.5" r="12.7" fill="#ff0000"/>
<circle cx="1302.1" cy="1271.5" r="12.7" fill="#ff0000"/>
<circle cx="1310.0" cy="1271.5" r="12.7" fill="#ff0000"/>
<circle cx="1323.4" cy="1271.5" r="12.7" fill="#ff0000"/>
<circle cx="1327.0" cy="1271.5" r="12.7" fill="#ff0000"/>
<circle cx="1358.0" cy="1271.5" r="12.7" fill="#ff0000"/>
<circle cx="1365.7" cy="1271.5" r="12.7" fill="#ff0000"/>
<circle cx="1372.0" cy="1271.5" r="12.7" fill="#ff0000"/>
<circle cx="1399.0" cy="1271.5" r="12.7" fill="#ff0000"/>
<circle cx="1406.4" cy="1271.5" r="12.7" fill="#ff0000"/>
<circle cx="1413.0" cy="1271.5" r="12.7" fill="#ff0000"/>
<circle cx="1439.8" cy="1271.5" r="12.7" fill="#ff0000"/>
<circle cx="1447.6" cy="1271.5" r="12.7" fill="#ff0000"/>
<circle cx="1455.7" cy="1271.5" r="12.7" fill="#ff0000"/>
<circle cx="1467.8" cy="1271.5" r="12.7" fill="#ff0000"/>
<circle cx="1484.7" cy="1271.5" r="12.7" fill="#ff0000"/>
<circle cx="1493.2" cy="1271.5" r="12.7" fill="#ff0000"/>
<circle cx="1502.9" cy="1271.5" r="12.7" fill="#ff0000"/>
<circle cx="1517.4" cy="1271.5" r="12.7" fill="#ff0000"/>
<circle cx="1535.8" cy="1271.5" r="12.7" fill="#ff0000"/>
<circle cx="1549.7" cy="1271.5" r="12.7" fill="#ff0000"/>
<circle cx="1561.5" cy="1271.5" r="12.7" fill="#ff0000"/>
<circle cx="1580.2" cy="1271.5" r="12.7" fill="#ff0000"/>
<circle cx="1587.8" cy="1271.5" r="12.7" fill="#ff0000"/>
<circle cx="1605.1" cy="1271.5" r="12.7" fill="#ff0000"/>
<circle cx="1615.5" cy="1271.5" r="12.7" fill="#ff0000"/>
<circle cx="1624.3" cy="1271.5" r="12.7" fill="#ff0000"/>
<circle cx="1632.7" cy="1271.5" r="12.7" fill="#ff0000"/>
<circle cx="1643.4" cy="1271.5" r="12.7" fill="#ff0000"/>
<circle cx="1660.2" cy="1271.5" r="12.7" fill="#ff0000"/>
<circle cx="1669.4" cy="1271.5" r="12.7" fill="#ff0000"/>
<circle cx="1683.3" cy="1271.5" r="12.7" fill="#ff0000"/>
<circle cx="1698.0" cy="1271.5" r="12.7" fill="#ff0000"/>
<circle cx="1709.5" cy="1271.5" r="12.7" fill="#ff0000"/>
<circle cx="1723.0" cy="1271.5" r="12.7" fill="#ff0000"/>
<circle cx="1730.8" cy="1271.5" r="12.7" fill="#ff0000"/>
<circle cx="1738.5" cy="1271.5" r="12.7" fill="#ff0000"/>
<circle cx="1748.0" cy="1271.5" r="12.7" fill="#ff0000"/>
<circle cx="1763.1" cy="1271.5" r="12.7" fill="#ff0000"/>
<circle cx="1775.3" cy="1271.5" r="12.7" fill="#ff0000"/>
<circle cx="1786.0" cy="1271.5" r="12.7" fill="#ff0000"/>
<circle cx="1800.1" cy="1271.5" r="12.7" fill="#ff0000"/>
<circle cx="1812.5" cy="1271.5" r="12.7" fill="#ff0000"/>
<circle cx="1823.1" cy="1271.5" r="12.7" fill="#ff0000"/>
<circle cx="1839.6" cy="1271.5" r="12.7" fill="#ff0000"/>
<circle cx="1855.0" cy="1271.5" r="12.7" fill="#ff0000"/>
<circle cx="1865.0" cy="1271.5" r="12.7" fill="#ff0000"/>
<circle cx="1878.9" cy="1271.5" r="12.7" fill="#ff0000"/>
<circle cx="1892.2" cy="1271.5" r="12.7" fill="#ff0000"/>
<circle cx="1909.7" cy="1271.5" r="12.7" fill="#ff0000"/>
<circle cx="1925.4" cy="1271.5" r="12.7" fill="#ff0000"/>
<circle cx="1935.9" cy="1271.5" r="12.7" fill="#ff0000"/>
<circle cx="1954.6" cy="1271.5" r="12.7" fill="#ff0000"/>
<circle cx="1963.0" cy="1271.5" r="12.7" fill="#ff0000"/>
<circle cx="1975.1" cy="1271.5" r="12.7" fill="#ff0000"/>
<circle cx="1991.1" cy="1271.5" r="12.7" fill="#ff0000"/>
<circle cx="2000.0" cy="1271.5" r="12.7" fill="#ff0000"/>
<circle cx="2012.8" cy="1271.5" r="12.7" fill="#ff0000"/>
<circle cx="2020.3" cy="1271.5" r="12.7" fill="#ff0000"/>
<circle cx="2035.3" cy="1271.5" r="12.7" fill="#ff0000"/>
<circle cx="2052.5" cy="1271.5" r="12.7" fill="#ff0000"/>
<circle cx="294.0" cy="208.0" r="12.7" fill="#0000ff"/>
<circle cx="305.0" cy="208.0" r="12.7" fill="#0000ff"/>
<circle cx="316.0" cy="208.0" r="12.7" fill="#0000ff"/>
<circle cx="331.0" cy="208.0" r="12.7" fill="#0000ff"/>
<circle cx="352.0" cy="208.0" r="12.7" fill="#0000ff"/>
<circle cx="377.0" cy="208.0" r="12.7" fill="#0000ff"/>
<circle cx="406.0" cy="208.0" r="12.7" fill="#0000ff"/>
<circle cx="1371.4" cy="208.3" r="12.7" fill="#0000ff"/>
<circle cx="1391.8" cy="209.2" r="12.7" fill="#0000ff"/>
<circle cx="1396.6" cy="219.5" r="12.7" fill="#0000ff"/>
<circle cx="1406.3" cy="209.2" r="12.7" fill="#0000ff"/>
<circle cx="1440.4" cy="210.0" r="12.7" fill="#0000ff"/>
<circle cx="1465.0" cy="213.0" r="12.7" fill="#0000ff"/>
<circle cx="1489.0" cy="218.0" r="12.7" fill="#0000ff"/>
<circle cx="1519.0" cy="227.0" r="12.7" fill="#0000ff"/>
<circle cx="1547.6" cy="246.0" r="12.7" fill="#0000ff"/>
<circle cx="300.2" cy="284.0" r="12.7" fill="#0000ff"/>
<circle cx="443.1" cy="284.0" r="12.7" fill="#0000ff"/>
<circle cx="467.8" cy="284.0" r="12.7" fill="#0000ff"/>
<circle cx="1529.6" cy="284.3" r="12.7" fill="#0000ff"/>
<circle cx="1579.3" cy="284.3" r="12.7" fill="#0000ff"/>
<circle cx="320.9" cy="398.0" r="12.7" fill="#0000ff"/>
<circle cx="453.4" cy="398.0" r="12.7" fill="#0000ff"/>
<circle cx="477.0" cy="398.0" r="12.7" fill="#0000ff"/>
<circle cx="362.0" cy="512.0" r="12.7" fill="#0000ff"/>
<circle cx="478.0" cy="512.0" r="12.7" fill="#0000ff"/>
<circle cx="498.6" cy="512.0" r="12.7" fill="#0000ff"/>
<circle cx="418.9" cy="626.0" r="12.7" fill="#0000ff"/>
<circle cx="516.0" cy="626.0" r="12.7" fill="#0000ff"/>
<circle cx="534.6" cy="626.0" r="12.7" fill="#0000ff"/>
<circle cx="714.7" cy="626.3" r="12.7" fill="#0000ff"/>
<circle cx="491.4" cy="740.0" r="12.7" fill="#0000ff"/>
<circle cx="568.5" cy="740.0" r="12.7" fill="#0000ff"/>
<circle cx="582.9" cy="740.0" r="12.7" fill="#0000ff"/>
<circle cx="701.4" cy="664.1" r="12.7" fill="#0000ff"/>
<circle cx="720.9" cy="664.1" r="12.7" fill="#0000ff"/>
<circle cx="440.3" cy="208.0" r="12.7" fill="#0000ff"/>
<circle cx="454.2" cy="208.0" r="12.7" fill="#0000ff"/>
<circle cx="471.7" cy="208.0" r="12.7" fill="#0000ff"/>
<circle cx="482.4" cy="208.0" r="12.7" fill="#0000ff"/>
<circle cx="497.8" cy="208.0" r="12.7" fill="#0000ff"/>
<circle cx="511.9" cy="208.0" r="12.7" fill="#0000ff"/>
<circle cx="525.9" cy="208.0" r="12.7" fill="#0000ff"/>
<circle cx="538.4" cy="208.0" r="12.7" fill="#0000ff"/>
<circle cx="555.4" cy="208.0" r="12.7" fill="#0000ff"/>
<circle cx="573.8" cy="208.0" r="12.7" fill="#0000ff"/>
<circle cx="586.5" cy="208.0" r="12.7" fill="#0000ff"/>
<circle cx="601.4" cy="208.0" r="12.7" fill="#0000ff"/>
<circle cx="609.2" cy="208.0" r="12.7" fill="#0000ff"/>
<circle cx="624.6" cy="208.0" r="12.7" fill="#0000ff"/>
<circle cx="639.3" cy="208.0" r="12.7" fill="#0000ff"/>
<circle cx="658.3" cy="208.0" r="12.7" fill="#0000ff"/>
<circle cx="675.1" cy="208.0" r="12.7" fill="#0000ff"/>
<circle cx="685.5" cy="208.0" r="12.7" fill="#0000ff"/>
<circle cx="697.2" cy="208.0" r="12.7" fill="#0000ff"/>
<circle cx="712.2" cy="208.0" r="12.7" fill="#0000ff"/>
<circle cx="719.5" cy="208.0" r="12.7" fill="#0000ff"/>
<circle cx="732.0" cy="208.0" r="12.7" fill="#0000ff"/>
<circle cx="741.0" cy="208.0" r="12.7" fill="#0000ff"/>
<circle cx="748.5" cy="208.0" r="12.7" fill="#0000ff"/>
<circle cx="775.5" cy="208.0" r="12.7" fill="#0000ff"/>
<circle cx="783.2" cy="208.0" r="12.7" fill="#0000ff"/>
<circle cx="799.4" cy="208.0" r="12.7" fill="#0000ff"/>
<circle cx="809.5" cy="208.0" r="12.7" fill="#0000ff"/>
<circle cx="836.5" cy="208.0" r="12.7" fill="#0000ff"/>
<circle cx="846.5" cy="208.0" r="12.7" fill="#0000ff"/>
<circle cx="858.2" cy="208.0" r="12.7" fill="#0000ff"/>
<circle cx="875.6" cy="208.0" r="12.7" fill="#0000ff"/>
<circle cx="883.6" cy="208.0" r="12.7" fill="#0000ff"/>
<circle cx="896.0" cy="208.0" r="12.7" fill="#0000ff"/>
<circle cx="909.6" cy="208.0" r="12.7" fill="#0000ff"/>
<circle cx="927.2" cy="208.0" r="12.7" fill="#0000ff"/>
<circle cx="944.0" cy="208.0" r="12.7" fill="#0000ff"/>
<circle cx="961.4" cy="208.0" r="12.7" fill="#0000ff"/>
<circle cx="971.7" cy="208.0" r="12.7" fill="#0000ff"/>
<circle cx="983.7" cy="208.0" r="12.7" fill="#0000ff"/>
<circle cx="995.0" cy="208.0" r="12.7" fill="#0000ff"/>
<circle cx="1012.6" cy="208.0" r="12.7" fill="#0000ff"/>
<circle cx="1031.1" cy="208.0" r="12.7" fill="#0000ff"/>
<circle cx="1042.0" cy="208.0" r="12.7" fill="#0000ff"/>
<circle cx="1068.0" cy="208.0" r="12.7" fill="#0000ff"/>
<circle cx="1077.1" cy="208.0" r="12.7" fill="#0000ff"/>
<circle cx="1082.3" cy="208.0" r="12.7" fill="#0000ff"/>
<circle cx="1112.0" cy="208.0" r="12.7" fill="#0000ff"/>
<circle cx="1124.3" cy="208.0" r="12.7" fill="#0000ff"/>
<circle cx="1157.5" cy="208.0" r="12.7" fill="#0000ff"/>
<circle cx="1170.9" cy="208.0" r="12.7" fill="#0000ff"/>
<circle cx="1204.1" cy="208.0" r="12.7" fill="#0000ff"/>
<circle cx="1215.5" cy="208.0" r="12.7" fill="#0000ff"/>
<circle cx="1254.3" cy="208.0" r="12.7" fill="#0000ff"/>
<circle cx="1264.5" cy="208.0" r="12.7" fill="#0000ff"/>
<circle cx="1271.5" cy="208.0" r="12.7" fill="#0000ff"/>
<circle cx="1275.9" cy="208.0" r="12.7" fill="#0000ff"/>
<circle cx="1309.1" cy="208.0" r="12.7" fill="#0000ff"/>
<circle cx="1320.5" cy="208.0" r="12.7" fill="#0000ff"/>
<circle cx="1332.5" cy="208.0" r="12.7" fill="#0000ff"/>
<circle cx="698.0" cy="588.0" r="12.7" fill="#0000ff"/>
<circle cx="704.0" cy="588.0" r="12.7" fill="#0000ff"/>
<circle cx="709.9" cy="588.0" r="12.7" fill="#0000ff"/>
<circle cx="715.9" cy="588.0" r="12.7" fill="#0000ff"/>
<circle cx="721.8" cy="588.0" r="12.7" fill="#0000ff"/>
<circle cx="727.8" cy="588.0" r="12.7" fill="#0000ff"/>
<circle cx="733.7" cy="588.0" r="12.7" fill="#0000ff"/>
<circle cx="739.7" cy="588.0" r="12.7" fill="#0000ff"/>
<circle cx="745.6" cy="588.0" r="12.7" fill="#0000ff"/>
<circle cx="751.6" cy="588.0" r="12.7" fill="#0000ff"/>
<circle cx="757.5" cy="588.0" r="12.7" fill="#0000ff"/>
<circle cx="763.5" cy="588.0" r="12.7" fill="#0000ff"/>
<circle cx="769.5" cy="588.0" r="12.7" fill="#0000ff"/>
<circle cx="775.4" cy="588.0" r="12.7" fill="#0000ff"/>
<circle cx="781.4" cy="588.0" r="12.7" fill="#0000ff"/>
<circle cx="787.3" cy="588.0" r="12.7" fill="#0000ff"/>
<circle cx="793.3" cy="588.0" r="12.7" fill="#0000ff"/>
<circle cx="799.2" cy="588.0" r="12.7" fill="#0000ff"/>
<circle cx="805.2" cy="588.0" r="12.7" fill="#0000ff"/>
<circle cx="811.1" cy="588.0" r="12.7" fill="#0000ff"/>
<circle cx="817.1" cy="588.0" r="12.7" fill="#0000ff"/>
<circle cx="823.1" cy="588.0" r="12.7" fill="#0000ff"/>
<circle cx="829.0" cy="588.0" r="12.7" fill="#0000ff"/>
<circle cx="835.0" cy="588.0" r="12.7" fill="#0000ff"/>
<circle cx="840.9" cy="588.0" r="12.7" fill="#0000ff"/>
<circle cx="846.9" cy="588.0" r="12.7" fill="#0000ff"/>
<circle cx="852.8" cy="588.0" r="12.7" fill="#0000ff"/>
<circle cx="858.8" cy="588.0" r="12.7" fill="#0000ff"/>
<circle cx="864.7" cy="588.0" r="12.7" fill="#0000ff"/>
<circle cx="870.7" cy="588.0" r="12.7" fill="#0000ff"/>
<circle cx="876.6" cy="588.0" r="12.7" fill="#0000ff"/>
<circle cx="882.6" cy="588.0" r="12.7" fill="#0000ff"/>
<circle cx="888.6" cy="588.0" r="12.7" fill="#0000ff"/>
<circle cx="894.5" cy="588.0" r="12.7" fill="#0000ff"/>
<circle cx="900.5" cy="588.0" r="12.7" fill="#0000ff"/>
<circle cx="906.4" cy="588.0" r="12.7" fill="#0000ff"/>
<circle cx="912.4" cy="588.0" r="12.7" fill="#0000ff"/>
<circle cx="918.3" cy="588.0" r="12.7" fill="#0000ff"/>
<circle cx="924.3" cy="588.0" r="12.7" fill="#0000ff"/>
<circle cx="930.2" cy="588.0" r="12.7" fill="#0000ff"/>
<circle cx="936.2" cy="588.0" r="12.7" fill="#0000ff"/>
<circle cx="942.2" cy="588.0" r="12.7" fill="#0000ff"/>
<circle cx="948.1" cy="588.0" r="12.7" fill="#0000ff"/>
<circle cx="954.1" cy="588.0" r="12.7" fill="#0000ff"/>
<circle cx="960.0" cy="588.0" r="12.7" fill="#0000ff"/>
<circle cx="966.0" cy="588.0" r="12.7" fill="#0000ff"/>
<circle cx="971.9" cy="588.0" r="12.7" fill="#0000ff"/>
<circle cx="977.9" cy="588.0" r="12.7" fill="#0000ff"/>
<circle cx="983.8" cy="588.0" r="12.7" fill="#0000ff"/>
<circle cx="989.8" cy="588.0" r="12.7" fill="#0000ff"/>
<circle cx="995.7" cy="588.0" r="12.7" fill="#0000ff"/>
<circle cx="1001.7" cy="588.0" r="12.7" fill="#0000ff"/>
</g>
<g id="ticks" stroke="#222222" stroke-width="5.5">
<line x1="249.0" y1="1437.2" x2="249.0" y2="1415.7"/>
<line x1="249.0" y1="43.5" x2="249.0" y2="65.0"/>
<line x1="726.5" y1="1437.2" x2="726.5" y2="1415.7"/>
<line x1="726.5" y1="43.5" x2="726.5" y2="65.0"/>
<line x1="1204.0" y1="1437.2" x2="1204.0" y2="1415.7"/>
<line x1="1204.0" y1="43.5" x2="1204.0" y2="65.0"/>
<line x1="1681.5" y1="1437.2" x2="1681.5" y2="1415.7"/>
<line x1="1681.5" y1="43.5" x2="1681.5" y2="65.0"/>
<line x1="2159.0" y1="1437.2" x2="2159.0" y2="1415.7"/>
<line x1="2159.0" y1="43.5" x2="2159.0" y2="65.0"/>
<line x1="248.8" y1="43.2" x2="270.3" y2="43.2"/>
<line x1="2158.0" y1="43.2" x2="2136.5" y2="43.2"/>
<line x1="248.8" y1="217.4" x2="270.3" y2="217.4"/>
<line x1="2158.0" y1="217.4" x2="2136.5" y2="217.4"/>
<line x1="248.8" y1="391.6" x2="270.3" y2="391.6"/>
<line x1="2158.0" y1="391.6" x2="2136.5" y2="391.6"/>
<line x1="248.8" y1="565.8" x2="270.3" y2="565.8"/>
<line x1="2158.0" y1="565.8" x2="2136.5" y2="565.8"/>
<line x1="248.8" y1="740.0" x2="270.3" y2="740.0"/>
<line x1="2158.0" y1="740.0" x2="2136.5" y2="740.0"/>
<line x1="248.8" y1="914.2" x2="270.3" y2="914.2"/>
<line x1="2158.0" y1="914.2" x2="2136.5" y2="914.2"/>
<line x1="248.8" y1="1088.4" x2="270.3" y2="1088.4"/>
<line x1="2158.0" y1="1088.4" x2="2136.5" y2="1088.4"/>
<line x1="248.8" y1="1262.6" x2="270.3" y2="1262.6"/>
<line x1="2158.0" y1="1262.6" x2="2136.5" y2="1262.6"/>
<line x1="248.8" y1="1436.8" x2="270.3" y2="1436.8"/>
<line x1="2158.0" y1="1436.8" x2="2136.5" y2="1436.8"/>
</g>
<rect x="248.8" y="43.5" width="1909.2" height="1393.7" fill="none" stroke="#222222" stroke-width="6.5"/>
<g id="ticklabels" font-family="Liberation Serif, 'Times New Roman', serif" font-weight="bold" font-size="60" fill="#222222">
<text x="224" y="64.2" text-anchor="end">0.8</text>
<text x="224" y="238.4" text-anchor="end">0.6</text>
<text x="224" y="412.6" text-anchor="end">0.4</text>
<text x="224" y="586.8" text-anchor="end">0.2</text>
<text x="224" y="761.0" text-anchor="end">0</text>
<text transform="translate(111.83,941.90) scale(1.157,1)">−</text>
<text x="224" y="935.2" text-anchor="end">0.2</text>
<text transform="translate(111.83,1116.10) scale(1.157,1)">−</text>
<text x="224" y="1109.4" text-anchor="end">0.4</text>
<text transform="translate(111.83,1290.30) scale(1.157,1)">−</text>
<text x="224" y="1283.6" text-anchor="end">0.6</text>
<text transform="translate(111.83,1464.50) scale(1.157,1)">−</text>
<text x="224" y="1457.8" text-anchor="end">0.8</text>
<text transform="translate(212.73,1523.70) scale(1.157,1)">−</text>
<text x="247.3" y="1517">1</text>
<text transform="translate(666.53,1523.70) scale(1.157,1)">−</text>
<text x="703.7" y="1517">0.5</text>
<text x="1202.2" y="1517" text-anchor="middle">0</text>
<text x="1679.2" y="1517" text-anchor="middle">0.5</text>
<text x="2155.1" y="1517" text-anchor="middle">1</text>
</g>
<text x="1202" y="1611" text-anchor="middle" font-family="Liberation Serif, 'Times New Roman', serif" font-weight="bold" font-size="83" fill="#222222">yaw rate(deg/s)</text>
<text transform="translate(83,741.5) rotate(-90)" x="0" y="0" text-anchor="middle" font-family="Liberation Serif, 'Times New Roman', serif" font-weight="bold" font-size="83" fill="#222222">rudder angle(rad)</text>
<g id="legend">
<circle cx="1969.5" cy="124.4" r="15" fill="#000000"/>
<circle cx="1969.5" cy="192" r="15" fill="#ff0000"/>
<circle cx="1969.5" cy="259.6" r="15" fill="#0000ff"/>
<g font-family="Liberation Serif, 'Times New Roman', serif" font-weight="bold" font-size="58" fill="#000000">
<text x="2057" y="143.6">A</text>
<text x="2057" y="211.2">B</text>
<text x="2057" y="279">C</text>
</g>
</g>
<g id="dashes" stroke="#ffb900" stroke-width="13" stroke-linecap="butt" stroke-linejoin="miter" fill="none">
<line x1="261.00" y1="139.99" x2="319.30" y2="139.65"/>
<line x1="362.80" y1="139.39" x2="421.10" y2="139.05"/>
<line x1="464.60" y1="138.80" x2="522.90" y2="138.46"/>
<line x1="566.39" y1="138.20" x2="624.69" y2="137.86"/>
<line x1="668.19" y1="137.60" x2="726.49" y2="137.26"/>
<line x1="769.99" y1="137.01" x2="828.29" y2="136.67"/>
<line x1="871.79" y1="136.41" x2="930.09" y2="136.07"/>
<line x1="973.59" y1="135.82" x2="1031.89" y2="135.48"/>
<line x1="1075.39" y1="135.22" x2="1133.69" y2="134.88"/>
<line x1="1177.18" y1="134.62" x2="1235.48" y2="134.28"/>
<line x1="1278.98" y1="134.03" x2="1337.28" y2="133.69"/>
<line x1="1380.78" y1="133.43" x2="1439.08" y2="133.09"/>
<line x1="1482.58" y1="132.84" x2="1506.00" y2="132.70"/>
<line x1="1506.20" y1="132.60" x2="1543.22" y2="177.64"/>
<line x1="1570.83" y1="211.25" x2="1607.85" y2="256.29"/>
<line x1="1635.47" y1="289.90" x2="1672.48" y2="334.94"/>
<line x1="1700.10" y1="368.55" x2="1737.12" y2="413.59"/>
<line x1="1764.73" y1="447.20" x2="1801.75" y2="492.24"/>
<line x1="1829.37" y1="525.85" x2="1866.38" y2="570.89"/>
<line x1="1894.00" y1="604.50" x2="1931.02" y2="649.54"/>
<line x1="1958.64" y1="683.15" x2="1995.65" y2="728.19"/>
<line x1="2023.27" y1="761.80" x2="2060.28" y2="806.84"/>
<line x1="260.38" y1="138.84" x2="271.02" y2="196.16"/>
<line x1="278.96" y1="239.00" x2="289.59" y2="296.32"/>
<line x1="297.54" y1="339.16" x2="308.17" y2="396.48"/>
<line x1="316.12" y1="439.32" x2="326.75" y2="496.64"/>
<line x1="334.69" y1="539.48" x2="345.33" y2="596.80"/>
<line x1="353.27" y1="639.64" x2="363.90" y2="696.96"/>
<line x1="371.85" y1="739.80" x2="382.48" y2="797.12"/>
<line x1="390.43" y1="839.96" x2="401.06" y2="897.28"/>
<line x1="409.00" y1="940.12" x2="419.63" y2="997.44"/>
<line x1="427.58" y1="1040.28" x2="438.21" y2="1097.60"/>
<line x1="446.16" y1="1140.44" x2="456.79" y2="1197.76"/>
<line x1="464.73" y1="1240.60" x2="475.37" y2="1297.92"/>
<line x1="399.15" y1="833.24" x2="452.29" y2="809.25"/>
<line x1="491.93" y1="791.35" x2="545.07" y2="767.35"/>
<line x1="584.71" y1="749.45" x2="637.85" y2="725.46"/>
<line x1="677.50" y1="707.56" x2="730.63" y2="683.57"/>
<line x1="770.28" y1="665.67" x2="823.41" y2="641.68"/>
<line x1="863.06" y1="623.78" x2="916.19" y2="599.79"/>
<line x1="955.84" y1="581.89" x2="1008.97" y2="557.90"/>
<line x1="1048.62" y1="540.00" x2="1101.76" y2="516.01"/>
<line x1="1141.40" y1="498.11" x2="1194.54" y2="474.12"/>
<line x1="1234.18" y1="456.22" x2="1287.32" y2="432.23"/>
<line x1="1326.96" y1="414.33" x2="1380.10" y2="390.34"/>
<line x1="1419.75" y1="372.43" x2="1472.88" y2="348.44"/>
<line x1="1512.53" y1="330.54" x2="1565.66" y2="306.55"/>
<line x1="1605.31" y1="288.65" x2="1614.92" y2="284.31"/>
<line x1="456.04" y1="1193.44" x2="475.13" y2="1188.98"/>
<line x1="517.46" y1="1179.09" x2="574.23" y2="1165.83"/>
<line x1="616.56" y1="1155.94" x2="673.33" y2="1142.68"/>
<line x1="715.66" y1="1132.79" x2="772.43" y2="1119.52"/>
<line x1="814.76" y1="1109.63" x2="871.53" y2="1096.37"/>
<line x1="913.86" y1="1086.48" x2="970.64" y2="1073.22"/>
<line x1="1012.97" y1="1063.33" x2="1069.74" y2="1050.07"/>
<line x1="1112.07" y1="1040.18" x2="1168.84" y2="1026.91"/>
<line x1="1211.17" y1="1017.02" x2="1267.94" y2="1003.76"/>
<line x1="1310.27" y1="993.87" x2="1367.04" y2="980.61"/>
<line x1="1409.37" y1="970.72" x2="1466.14" y2="957.46"/>
<line x1="1508.47" y1="947.57" x2="1565.24" y2="934.31"/>
<line x1="1607.57" y1="924.42" x2="1664.35" y2="911.15"/>
<line x1="1706.68" y1="901.26" x2="1763.45" y2="888.00"/>
<line x1="1805.78" y1="878.11" x2="1862.55" y2="864.85"/>
<line x1="1904.88" y1="854.96" x2="1961.65" y2="841.70"/>
<path d="M2003.98,831.81 L2062.80,818.00 L2067.84,869.00" fill="none"/>
<line x1="2072.10" y1="912.00" x2="2077.77" y2="969.30"/>
<line x1="2082.12" y1="1013.20" x2="2087.79" y2="1070.50"/>
<line x1="2092.14" y1="1114.40" x2="2097.81" y2="1171.70"/>
<line x1="2102.15" y1="1215.60" x2="2107.83" y2="1272.90"/>
<line x1="482.00" y1="1336.84" x2="540.30" y2="1335.95"/>
<line x1="583.80" y1="1335.29" x2="642.10" y2="1334.39"/>
<line x1="685.60" y1="1333.73" x2="743.90" y2="1332.83"/>
<line x1="787.40" y1="1332.17" x2="845.70" y2="1331.28"/>
<line x1="889.20" y1="1330.61" x2="947.50" y2="1329.72"/>
<line x1="991.00" y1="1329.05" x2="1049.30" y2="1328.16"/>
<line x1="1092.80" y1="1327.49" x2="1151.10" y2="1326.60"/>
<line x1="1194.60" y1="1325.93" x2="1252.90" y2="1325.04"/>
<line x1="1296.40" y1="1324.38" x2="1354.70" y2="1323.48"/>
<line x1="1398.20" y1="1322.82" x2="1456.50" y2="1321.92"/>
<line x1="1500.00" y1="1321.26" x2="1558.30" y2="1320.37"/>
<line x1="1601.80" y1="1319.70" x2="1660.10" y2="1318.81"/>
<line x1="1703.60" y1="1318.14" x2="1761.90" y2="1317.25"/>
<line x1="1805.40" y1="1316.58" x2="1863.70" y2="1315.69"/>
<line x1="1907.20" y1="1315.02" x2="1965.50" y2="1314.13"/>
<line x1="2009.00" y1="1313.47" x2="2067.30" y2="1312.57"/>
</g>
<g font-family="Liberation Sans, Arial, sans-serif" font-size="71">
<text transform="scale(0.93,1)" x="751.37 801.25 819.73 861.05 897.47 920.28 961.34 981.34 1004.32" y="367.9" fill="#2274d2">Cluster C</text>
<text transform="scale(0.93,1)" x="1420.29 1472.11 1490.22 1530.35 1566.77 1590.02 1631.02 1651.02 1676.93" y="507.7" fill="#000000">Cluster A</text>
<text transform="scale(0.93,1)" x="1646.10 1697.91 1716.02 1756.16 1792.58 1815.82 1856.82 1876.82 1900.48" y="1097.2" fill="#ff0000">Cluster B</text>
</g>
</svg>
</body></html>
